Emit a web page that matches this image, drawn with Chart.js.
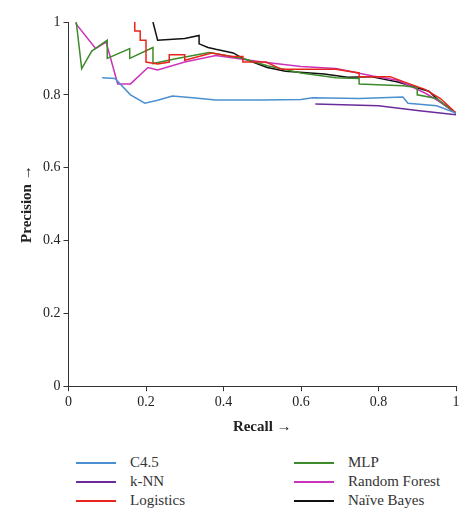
<!DOCTYPE html><html><head><script src="https://cdn.jsdelivr.net/npm/chart.js@4"></script>
<style>body{margin:0;background:#fff;font-family:"Liberation Serif",serif}
#wrap{position:relative;width:474px;height:440px}
#leg{display:grid;grid-template-columns:218px 200px;margin-left:76px;margin-top:14px;row-gap:2px;font-size:15px;color:#333}
#leg div{display:flex;align-items:center}#leg span{display:inline-block;width:40px;height:2px;margin-right:14px}
</style></head><body><div id="wrap"><canvas id="c"></canvas></div><div id="leg"></div>
<script>
const names=["C4.5","k-NN","Logistics","MLP","Random Forest","Naïve Bayes"];
const colors=["#4a90d0","#6a2c9a","#e8251c","#3d8b2a","#cc33bb","#111111"];
const c45X=[0.087,0.12,0.16,0.197,0.23,0.268,0.32,0.38,0.5,0.6,0.63,0.75,0.863,0.876,0.95,1];
const c45Y=[0.847,0.845,0.80,0.777,0.785,0.797,0.792,0.786,0.786,0.787,0.792,0.79,0.794,0.777,0.77,0.75];
const knnX=[0.637,0.8,0.9,1];
const knnY=[0.775,0.77,0.757,0.745];
const logX=[0.171,0.171,0.185,0.185,0.2,0.2,0.2,0.23,0.26,0.26,0.3,0.3,0.37,0.42,0.45,0.45,0.51,0.55,0.6,0.69,0.75,0.75,0.83,0.88,0.92,0.96,1];
const logY=[1,0.975,0.975,0.95,0.95,0.89,0.89,0.885,0.89,0.91,0.91,0.895,0.915,0.905,0.905,0.89,0.89,0.87,0.87,0.87,0.86,0.85,0.85,0.83,0.815,0.79,0.75];
const mlpX=[0.02,0.034,0.06,0.1,0.1,0.158,0.158,0.218,0.218,0.28,0.363,0.45,0.513,0.6,0.69,0.75,0.75,0.863,0.9,0.9,0.95,1];
const mlpY=[1,0.872,0.92,0.95,0.90,0.927,0.90,0.93,0.886,0.9,0.916,0.9,0.88,0.86,0.847,0.845,0.83,0.825,0.82,0.80,0.79,0.75];
const rfX=[0.018,0.07,0.097,0.127,0.16,0.205,0.23,0.3,0.38,0.5,0.6,0.69,0.785,0.85,0.92,0.96,1];
const rfY=[0.997,0.927,0.945,0.83,0.83,0.875,0.868,0.89,0.908,0.89,0.878,0.872,0.852,0.84,0.805,0.78,0.75];
const nbX=[0.218,0.23,0.3,0.337,0.337,0.36,0.38,0.425,0.45,0.513,0.56,0.66,0.72,0.78,0.85,0.93,0.96,1];
const nbY=[1,0.95,0.955,0.963,0.94,0.93,0.925,0.915,0.9,0.875,0.865,0.857,0.848,0.85,0.835,0.81,0.78,0.75];
const xs=[c45X,knnX,logX,mlpX,rfX,nbX],ys=[c45Y,knnY,logY,mlpY,rfY,nbY];
const ds=names.map((n,i)=>({label:n,data:xs[i].map((x,j)=>({x,y:ys[i][j]})),borderColor:colors[i],borderWidth:1.5,pointRadius:0,tension:0,fill:false}));
const F="'Liberation Serif', serif";
const grid={drawOnChartArea:false,drawTicks:true,tickLength:5,color:'#333'};
new Chart(document.getElementById('c'),{type:'line',data:{datasets:ds},options:{responsive:true,maintainAspectRatio:false,animation:false,
layout:{padding:{top:22,right:18,left:14}},plugins:{legend:{display:false}},
scales:{x:{type:'linear',min:0,max:1,grid,border:{color:'#333'},ticks:{stepSize:0.2,color:'#222',font:{family:F,size:14},callback:v=>String(+v.toFixed(1))},title:{display:true,text:'Recall →',font:{family:F,size:15,weight:'bold'},color:'#222'}},
y:{min:0,max:1,grid,border:{color:'#333'},ticks:{stepSize:0.2,color:'#222',font:{family:F,size:14},callback:v=>String(+v.toFixed(1))},title:{display:true,text:'Precision →',font:{family:F,size:15,weight:'bold'},color:'#222'}}}}});
const order=[0,3,1,4,2,5];const L=document.getElementById('leg');
order.forEach(i=>{L.innerHTML+=`<div><span style="background:${colors[i]}"></span>${names[i]}</div>`});
</script></body></html>
